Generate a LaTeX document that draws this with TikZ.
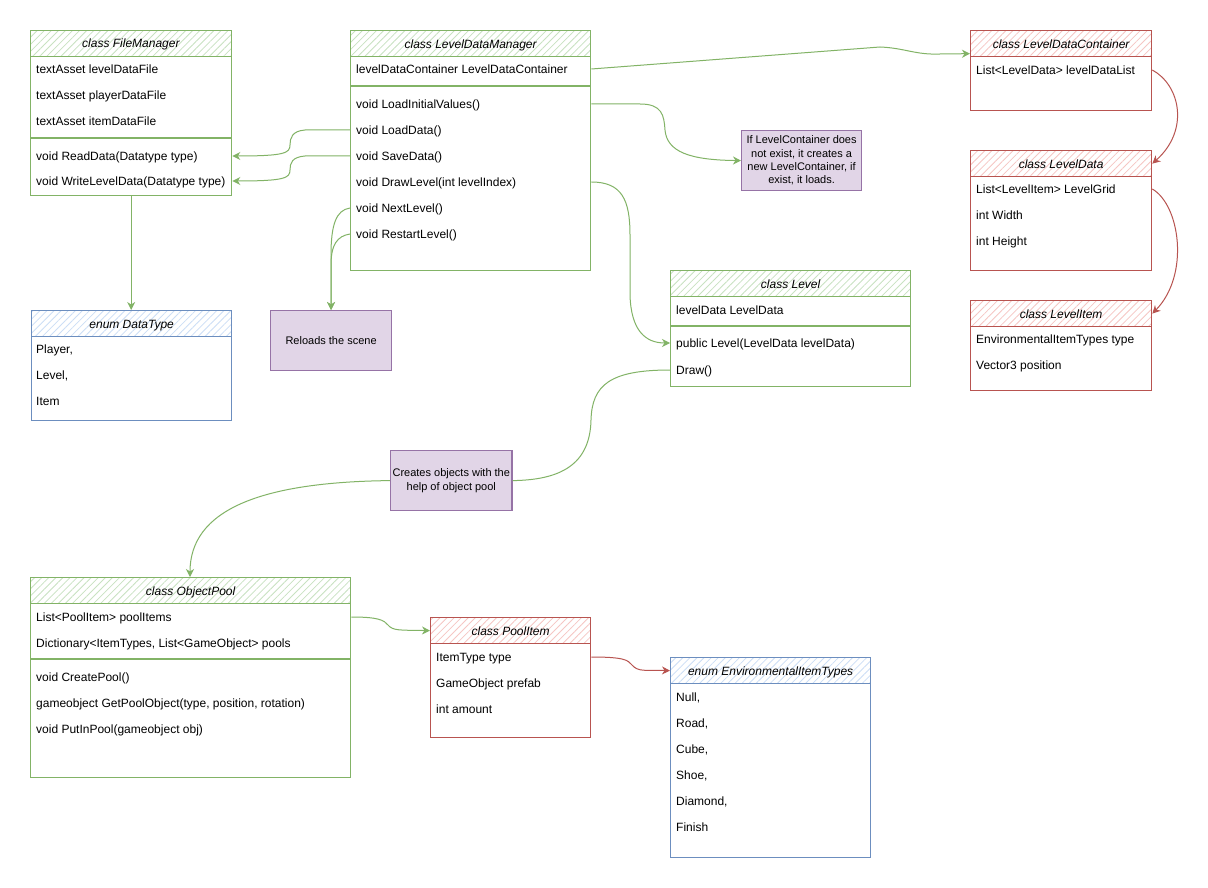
\documentclass[tikz,border=0pt]{standalone}
\usepackage{fontspec}
\setmainfont{Liberation Sans}
\usetikzlibrary{arrows.meta,patterns.meta}
\definecolor{gs}{HTML}{82B366}
\definecolor{gf}{HTML}{C8E2C1}
\definecolor{rs}{HTML}{B85450}
\definecolor{rf}{HTML}{F6C6C3}
\definecolor{bs}{HTML}{6C8EBF}
\definecolor{bf}{HTML}{CCDEF6}
\definecolor{ps}{HTML}{9673A6}
\definecolor{pf}{HTML}{E1D5E7}
\tikzset{
  cbox/.style={draw, rectangle, anchor=north west, inner sep=0pt, line width=1.3pt, fill=white},
  hdr/.style={draw, rectangle, anchor=north west, inner sep=0pt, line width=1.3pt, minimum height=26pt,
    font=\fontsize{12pt}{14pt}\selectfont\itshape, text height=9pt, text depth=0pt},
  ghdr/.style={hdr, draw=gs, pattern={Lines[angle=45,distance=5pt,line width=0.8pt]}, pattern color=gf},
  rhdr/.style={hdr, draw=rs, pattern={Lines[angle=45,distance=5pt,line width=0.8pt]}, pattern color=rf},
  bhdr/.style={hdr, draw=bs, pattern={Lines[angle=45,distance=5pt,line width=0.8pt]}, pattern color=bf},
  row/.style={anchor=west, inner sep=0pt, text height=9.5pt, text depth=0pt},
  note/.style={draw=ps, fill=pf, line width=1.2pt, rectangle, anchor=north west, inner sep=2pt,
    align=center, font=\fontsize{11pt}{13.3pt}\selectfont},
  sep/.style={line width=1.3pt},
  conn/.style={line width=1pt, -{Stealth[length=8pt,width=8pt,inset=2.5pt]}},
  line/.style={line width=1pt},
}
\begin{document}
\begin{tikzpicture}[x=1pt, y=-1pt, font=\fontsize{12pt}{14pt}\selectfont]
\useasboundingbox[fill=white] (0,0) rectangle (1208,888);

% ---------- FileManager ----------
\node[cbox, draw=gs, minimum width=201pt, minimum height=165pt] (fm) at (30,30) {};
\node[ghdr, minimum width=201pt] (fmh) at (30,30) {class FileManager};
\node[row] (fm1) at (36,69) {textAsset levelDataFile};
\node[row] (fm2) at (36,95) {textAsset playerDataFile};
\node[row] (fm3) at (36,121) {textAsset itemDataFile};
\draw[sep, gs] (fm.west |- 0,138) -- (fm.east |- 0,138);
\node[row] (fm4) at (36,156) {void ReadData(Datatype type)};
\node[row] (fm5) at (36,181) {void WriteLevelData(Datatype type)};

% ---------- LevelDataManager ----------
\node[cbox, draw=gs, minimum width=240pt, minimum height=240pt] (ldm) at (350,30) {};
\node[ghdr, minimum width=240pt] (ldmh) at (350,30) {class LevelDataManager};
\node[row] (ldm0) at (356,69) {levelDataContainer LevelDataContainer};
\draw[sep, gs] (ldm.west |- 0,86) -- (ldm.east |- 0,86);
\node[row] (ldm1) at (356,104) {void LoadInitialValues()};
\node[row] (ldm2) at (356,130) {void LoadData()};
\node[row] (ldm3) at (356,156) {void SaveData()};
\node[row] (ldm4) at (356,182) {void DrawLevel(int levelIndex)};
\node[row] (ldm5) at (356,208) {void NextLevel()};
\node[row] (ldm6) at (356,234) {void RestartLevel()};

% ---------- LevelDataContainer ----------
\node[cbox, draw=rs, minimum width=181pt, minimum height=80pt] (ldc) at (970,30) {};
\node[rhdr, minimum width=181pt] (ldch) at (970,30) {class LevelDataContainer};
\node[row] (ldc0) at (976,70) {List<LevelData> levelDataList};

% ---------- LevelData ----------
\node[cbox, draw=rs, minimum width=181pt, minimum height=120pt] (ld) at (970,150) {};
\node[rhdr, minimum width=181pt] (ldh) at (970,150) {class LevelData};
\node[row] (ld0) at (976,189) {List<LevelItem> LevelGrid};
\node[row] (ld1) at (976,215) {int Width};
\node[row] (ld2) at (976,241) {int Height};

% ---------- LevelItem ----------
\node[cbox, draw=rs, minimum width=181pt, minimum height=90pt] (li) at (970,300) {};
\node[rhdr, minimum width=181pt] (lih) at (970,300) {class LevelItem};
\node[row] (li0) at (976,339) {EnvironmentalItemTypes type};
\node[row] (li1) at (976,365) {Vector3 position};

% ---------- enum DataType ----------
\node[cbox, draw=bs, minimum width=200pt, minimum height=110pt] (dt) at (31,310) {};
\node[bhdr, minimum width=200pt] (dth) at (31,310) {enum DataType};
\node[row] (dt0) at (36,349) {Player,};
\node[row] (dt1) at (36,375) {Level,};
\node[row] (dt2) at (36,401) {Item};

% ---------- notes ----------
\node[note, minimum width=121pt, minimum height=60pt] (rl) at (270,310) {Reloads the scene};
\node[note, minimum width=120pt, minimum height=60pt] (n1) at (741,130)
  {If LevelContainer does\\not exist, it creates a\\new LevelContainer, if\\exist, it loads.};
\node[note, minimum width=121pt, minimum height=60pt] (n2) at (390,450)
  {Creates objects with the\\help of object pool};

% ---------- Level ----------
\node[cbox, draw=gs, minimum width=240pt, minimum height=116pt] (lv) at (670,270) {};
\node[ghdr, minimum width=240pt] (lvh) at (670,270) {class Level};
\node[row] (lv1) at (676,310) {levelData LevelData};
\draw[sep, gs] (lv.west |- 0,326) -- (lv.east |- 0,326);
\node[row] (lv2) at (676,343) {public Level(LevelData levelData)};
\node[row] (lv3) at (676,370) {Draw()};

% ---------- ObjectPool ----------
\node[cbox, draw=gs, minimum width=320pt, minimum height=200pt] (op) at (30,577) {};
\node[ghdr, minimum width=320pt] (oph) at (30,577) {class ObjectPool};
\node[row] (op0) at (36,617) {List<PoolItem> poolItems};
\node[row] (op1) at (36,643) {Dictionary<ItemTypes, List<GameObject> pools};
\draw[sep, gs] (op.west |- 0,659) -- (op.east |- 0,659);
\node[row] (op2) at (36,677) {void CreatePool()};
\node[row] (op3) at (36,703) {gameobject GetPoolObject(type, position, rotation)};
\node[row] (op4) at (36,729) {void PutInPool(gameobject obj)};

% ---------- PoolItem ----------
\node[cbox, draw=rs, minimum width=160pt, minimum height=120pt] (pi) at (430,617) {};
\node[rhdr, minimum width=160pt] (pih) at (430,617) {class PoolItem};
\node[row] (pi0) at (436,657) {ItemType type};
\node[row] (pi1) at (436,683) {GameObject prefab};
\node[row] (pi2) at (436,709) {int amount};

% ---------- EnvironmentalItemTypes ----------
\node[cbox, draw=bs, minimum width=200pt, minimum height=200pt] (ev) at (670,657) {};
\node[bhdr, minimum width=200pt] (evh) at (670,657) {enum EnvironmentalItemTypes};
\node[row] (ev0) at (676,697) {Null,};
\node[row] (ev1) at (676,723) {Road,};
\node[row] (ev2) at (676,749) {Cube,};
\node[row] (ev3) at (676,775) {Shoe,};
\node[row] (ev4) at (676,801) {Diamond,};
\node[row] (ev5) at (676,827) {Finish};

% ---------- connectors ----------
\draw[conn, gs] (ldm.east |- ldm0) -- (880,47) .. controls (905,48) and (915,55) .. (940,54) -- ([yshift=-10pt]ldch.west);
\draw[conn, gs] (ldm.east |- ldm1) -- (640,104) .. controls (662,104) and (664,115) .. (665,130)
  .. controls (667,152) and (690,160) .. (n1.west);
\draw[conn, gs] (ldm.west |- ldm2) -- (305,130) .. controls (292,131) and (290,138) .. (290,145)
  .. controls (290,153) and (285,156) .. (fm.east |- fm4);
\draw[conn, gs] (ldm.west |- ldm3) -- (305,156) .. controls (292,157) and (290,163) .. (290,170)
  .. controls (290,178) and (285,181) .. (fm.east |- fm5);
\draw[conn, gs] (ldm.west |- ldm5) .. controls (336,210) and (331,225) .. (331,255) -- (rl.north);
\draw[conn, gs] (ldm.west |- ldm6) .. controls (337,236) and (331,245) .. (331,265) -- (rl.north);
\draw[conn, gs] (ldm.east |- ldm4) .. controls (622,182) and (630,200) .. (630,235) -- (630,295)
  .. controls (631,330) and (645,343) .. (lv.west |- lv2);
\draw[line, gs] (lv.west |- lv3) .. controls (610,370) and (592,385) .. (591,420)
  .. controls (590,465) and (560,480) .. (n2.east);
\draw[conn, gs] (n2.west) .. controls (260,482) and (190,510) .. (oph.north -| 190,0);
\draw[conn, gs] (fm.south) -- (fm.south |- dth.north);
\draw[conn, gs] (op.east |- op0) .. controls (378,617) and (384,620) .. (388,625)
  .. controls (393,631) and (400,630) .. (pih.west);
\draw[conn, rs] (pi.east |- pi0) .. controls (624,657) and (628,660) .. (632,665)
  .. controls (638,672) and (645,670) .. (evh.west);
\draw[conn, rs] (ldc.east |- ldc0) .. controls (1180,85) and (1190,130) .. (ldh.east);
\draw[conn, rs] (ld.east |- ld0) .. controls (1180,205) and (1190,275) .. (lih.east);
\end{tikzpicture}
\end{document}
